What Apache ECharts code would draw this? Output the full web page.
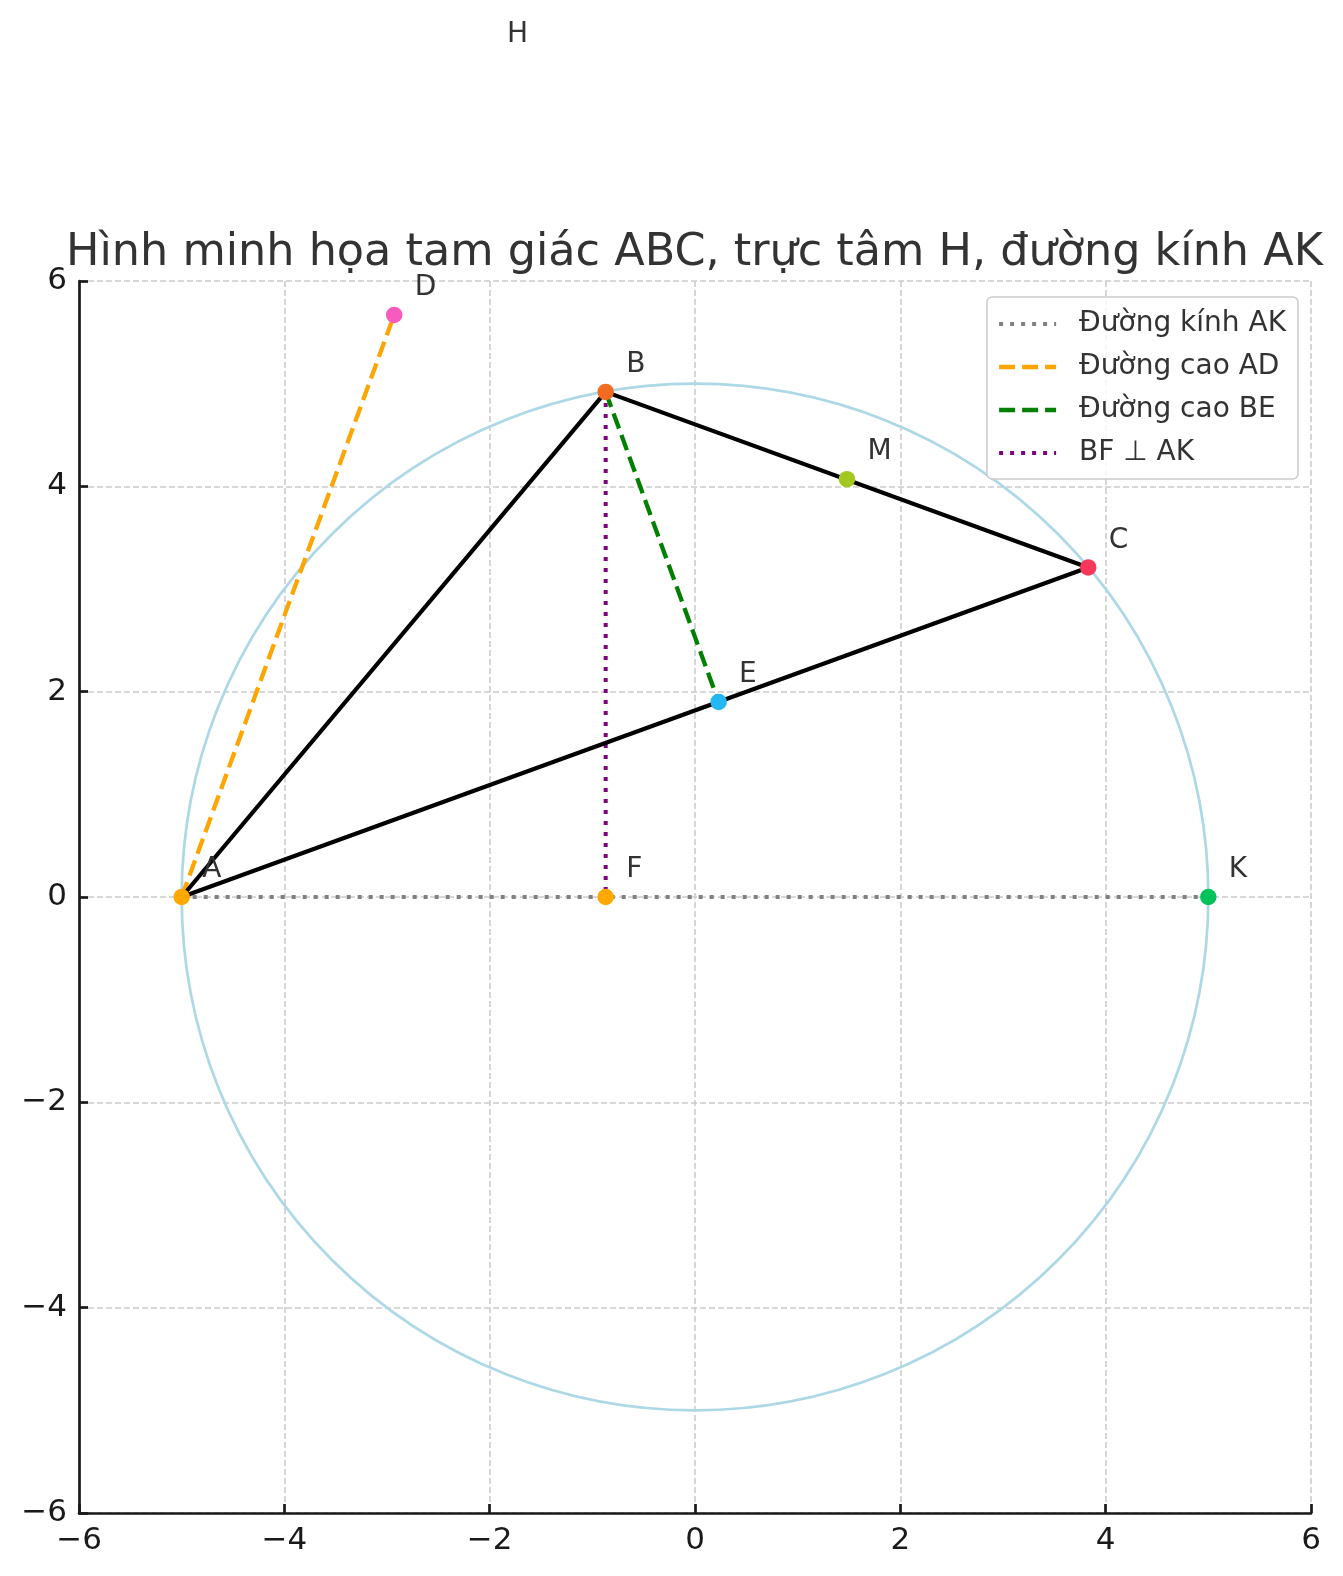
<!DOCTYPE html>
<html><head><meta charset="utf-8">
<script src="https://cdn.jsdelivr.net/npm/echarts@6/dist/echarts.min.js"></script>
<style>html,body{margin:0;padding:0;background:#fff}#c{width:1343px;height:1576px}</style>
</head><body><div id="c"></div>
<script>
// ---- data ----
const chartTitle = 'Hình minh họa tam giác ABC, trực tâm H, đường kính AK';
const pointNames = ['A', 'B', 'C', 'D', 'E', 'F', 'K', 'M', 'H'];
const pointX = [-5, -0.87, 3.83, -2.93, 0.23, -0.87, 5, 1.48, -2.03];
const pointY = [0, 4.92, 3.21, 5.67, 1.90, 0, 0, 4.07, 8.14];
const circleCenter = [0, 0];
const circleRadius = 5;
const axisMin = -6, axisMax = 6, axisStep = 2;
const triangleVertices = ['A', 'B', 'C', 'A'];
const legendNames = ['Đường kính AK', 'Đường cao AD', 'Đường cao BE', 'BF ⊥ AK'];
const legendSegments = [['A', 'K'], ['A', 'D'], ['B', 'E'], ['B', 'F']];

// ---- styles ----
const FONT = 'DejaVu Sans';
const pointColors = { A: '#ffa800', B: '#f36b21', C: '#f7385b', D: '#f85bc0', E: '#22b8f4', F: '#ffa800', K: '#00c25a', M: '#a3c81e', H: 'rgba(0,0,0,0)' };
const segStyles = [
  { color: '#808080', type: [4, 7], width: 4 },
  { color: '#ffa500', type: [16, 7], width: 4.3 },
  { color: '#008000', type: [16, 7], width: 4.3 },
  { color: '#800080', type: [4, 7], width: 4 }
];

function pt(n) { const i = pointNames.indexOf(n); return [pointX[i], pointY[i]]; }

const series = [];
// circle
series.push({
  type: 'custom', z: 1, silent: true,
  data: [[circleCenter[0], circleCenter[1], circleRadius]],
  renderItem: function (params, api) {
    const c = api.coord([api.value(0), api.value(1)]);
    const r = api.size([api.value(2), api.value(2)]);
    return { type: 'circle', shape: { cx: c[0], cy: c[1], r: r[0] },
      style: { fill: 'none', stroke: '#add8e6', lineWidth: 2.7 } };
  }
});
// triangle
series.push({
  type: 'line', z: 3, symbol: 'none', silent: true,
  data: triangleVertices.map(pt),
  lineStyle: { color: '#000', width: 4.2 }
});
// special segments
legendSegments.forEach(function (s, i) {
  series.push({
    name: legendNames[i], type: 'line', z: 2, symbol: 'none', silent: true,
    data: s.map(pt),
    lineStyle: segStyles[i], itemStyle: { color: segStyles[i].color }
  });
});
// points
series.push({
  type: 'scatter', z: 4, clip: false, symbolSize: 16.5, silent: true,
  data: pointNames.map(function (n, i) {
    return { name: n, value: [pointX[i], pointY[i]], itemStyle: { color: pointColors[n], opacity: 1 } };
  }),
  label: {
    show: true, position: 'inside', formatter: '{b}', align: 'left', verticalAlign: 'middle',
    offset: [20.5, -27], color: '#333', fontSize: 28, fontFamily: FONT
  }
});

function fmt(v) { return String(v).replace('-', '\u2212'); }
const axisCommon = {
  type: 'value', min: axisMin, max: axisMax, interval: axisStep,
  axisLine: { show: true, onZero: false, lineStyle: { color: '#1a1a1a', width: 2.7 } },
  axisTick: { show: true, inside: true, length: 9, lineStyle: { color: '#1a1a1a', width: 2.7 } },
  splitLine: { show: true, lineStyle: { color: '#cccccc', type: [6, 3], width: 1.6 } },
  axisLabel: { formatter: fmt, color: '#1a1a1a', fontSize: 31, fontFamily: FONT, margin: 12 }
};

const chart = echarts.init(document.getElementById('c'), null, { renderer: 'canvas' });
chart.setOption({
  backgroundColor: '#fff',
  animation: false,
  title: {
    text: chartTitle, left: 61, top: 226,
    textStyle: { fontFamily: FONT, fontSize: 44.5, fontWeight: 'normal', color: '#333' }
  },
  legend: {
    data: legendNames.map(function (n, i) {
      return { name: n, lineStyle: segStyles[i], itemStyle: { opacity: 0, color: 'rgba(0,0,0,0)' } };
    }),
    orient: 'vertical', right: 45, top: 297,
    itemWidth: 57, itemHeight: 2, itemGap: 13,
    padding: [12, 12, 11, 10],
    backgroundColor: 'rgba(255,255,255,0.8)', borderColor: '#cccccc', borderWidth: 1.6, borderRadius: 5,
    textStyle: { fontFamily: FONT, fontSize: 28, color: '#333', lineHeight: 30, padding: [0, 0, 0, 18] },
    selectedMode: false
  },
  grid: { left: 79, top: 281, width: 1232, height: 1232, containLabel: false },
  xAxis: Object.assign({}, axisCommon),
  yAxis: Object.assign({}, axisCommon),
  series: series
});
</script></body></html>
